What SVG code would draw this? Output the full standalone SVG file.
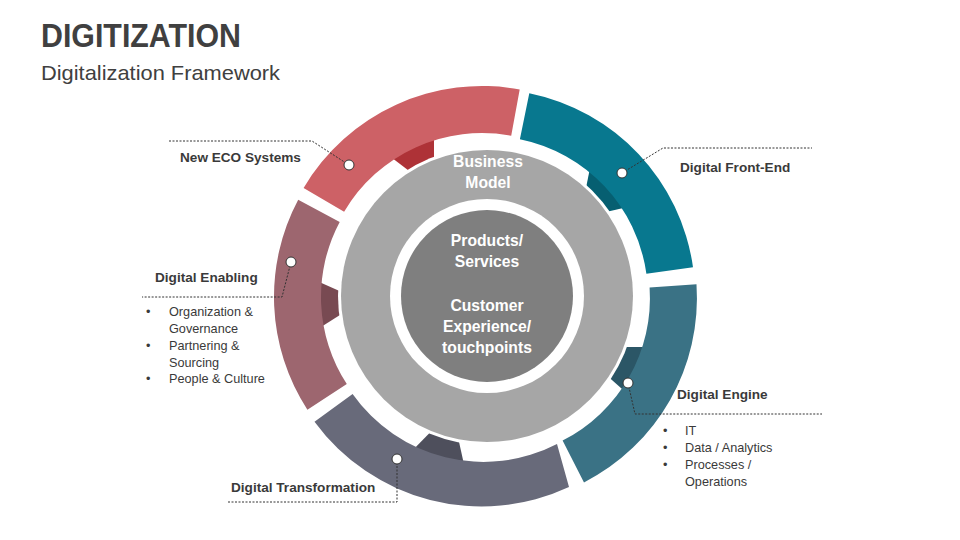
<svg xmlns="http://www.w3.org/2000/svg" width="960" height="540" viewBox="0 0 960 540">
<style>
.title{font-family:"Liberation Sans",Arial,sans-serif;font-weight:bold;font-size:33px;fill:#404040}
.sub{font-family:"Liberation Sans",Arial,sans-serif;font-size:21px;fill:#404040}
.lbl{font-family:"Liberation Sans",Arial,sans-serif;font-weight:bold;font-size:13.6px;fill:#3a3a3a}
.bul{font-family:"Liberation Sans",Arial,sans-serif;font-size:12.7px;fill:#3a3a3a}
.ctr{font-family:"Liberation Sans",Arial,sans-serif;font-weight:bold;font-size:15.7px;fill:#ffffff;text-anchor:middle}
.lead{fill:none;stroke:#333;stroke-width:1;stroke-dasharray:2 1.5}
.dot{fill:#fff;stroke:#333;stroke-width:1}
</style>
<rect width="960" height="540" fill="#fff"/>
<text class="title" x="41" y="47" textLength="200" lengthAdjust="spacingAndGlyphs">DIGITIZATION</text>
<text class="sub" x="41" y="80" textLength="239" lengthAdjust="spacingAndGlyphs">Digitalization Framework</text>

<g id="arrow-tips">
<polygon points="434,128 434,190 383,151" fill="#AE3237"/>
<polygon points="591,163 632,206 580,218" fill="#065F71"/>
<polygon points="652,347 631,397 575,347" fill="#2B5666"/>
<polygon points="408,455 465,469 452,410" fill="#4E4F5C"/>
<polygon points="308,277 310,334 362,301" fill="#784A52"/>
</g>

<g id="new-eco-systems">
<path d="M303.6,187.9 A207,207 0 0 1 519.7,89.5 L511.2,135.7 A160,160 0 0 0 344.1,211.8 Z" fill="#CD6166"/>
<text class="lbl" x="180" y="162">New ECO Systems</text>
</g>
<g id="digital-front-end">
<path d="M529.3,93.2 A207,207 0 0 1 693,267.2 L646.4,273.7 A160,160 0 0 0 519.9,139.2 Z" fill="#08788F"/>
<text class="lbl" x="680" y="172">Digital Front-End</text>
</g>
<g id="digital-engine">
<path d="M696.5,284.3 A207,207 0 0 1 584,482.4 L562.6,440.6 A160,160 0 0 0 649.6,287.4 Z" fill="#3A7285"/>
<text class="lbl" x="677" y="399">Digital Engine</text>
<text class="bul" x="663" y="435">•</text><text class="bul" x="685" y="435">IT</text>
<text class="bul" x="663" y="452">•</text><text class="bul" x="685" y="452">Data / Analytics</text>
<text class="bul" x="663" y="469">•</text><text class="bul" x="685" y="469">Processes /</text>
<text class="bul" x="685" y="486">Operations</text>
</g>
<g id="digital-transformation">
<path d="M569,487 A207,207 0 0 1 314.5,421.7 L352.6,394 A160,160 0 0 0 557,444 Z" fill="#686A7A"/>
<text class="lbl" x="231" y="492">Digital Transformation</text>
</g>
<g id="digital-enabling">
<path d="M307.4,409.7 A207,207 0 0 1 298.2,199.8 L339.7,221.9 A160,160 0 0 0 346.8,384.1 Z" fill="#9D666F"/>
<text class="lbl" x="155" y="282">Digital Enabling</text>
<text class="bul" x="146" y="316">•</text><text class="bul" x="169" y="316">Organization &amp;</text>
<text class="bul" x="169" y="333">Governance</text>
<text class="bul" x="146" y="350">•</text><text class="bul" x="169" y="350">Partnering &amp;</text>
<text class="bul" x="169" y="367">Sourcing</text>
<text class="bul" x="146" y="383">•</text><text class="bul" x="169" y="383">People &amp; Culture</text>
</g>

<g id="business-model">
<circle cx="487" cy="296" r="149" fill="#fff"/>
<circle cx="487" cy="296" r="146" fill="#A6A6A6"/>
<text class="ctr" x="488" y="167">Business</text>
<text class="ctr" x="488" y="188">Model</text>
</g>
<g id="products-services">
<circle cx="487" cy="296" r="97" fill="#fff"/>
<circle cx="487" cy="296" r="86" fill="#7F7F7F"/>
<text class="ctr" x="487" y="246">Products/</text>
<text class="ctr" x="487" y="267">Services</text>
<text class="ctr" x="487" y="311">Customer</text>
<text class="ctr" x="487" y="332">Experience/</text>
<text class="ctr" x="487" y="353">touchpoints</text>
</g>

<g id="connectors">
<polyline class="lead" points="169,141 312,141 349,165"/>
<polyline class="lead" points="622,173 663,148 812,148"/>
<polyline class="lead" points="628,383 635,414 822,414"/>
<polyline class="lead" points="397,459 397,502 228,502"/>
<polyline class="lead" points="291,262 282,297 142,297"/>
<circle class="dot" cx="349" cy="165" r="5"/>
<circle class="dot" cx="622" cy="173" r="5"/>
<circle class="dot" cx="628" cy="383" r="5"/>
<circle class="dot" cx="397" cy="459" r="5"/>
<circle class="dot" cx="291" cy="262" r="5"/>
</g>
</svg>
